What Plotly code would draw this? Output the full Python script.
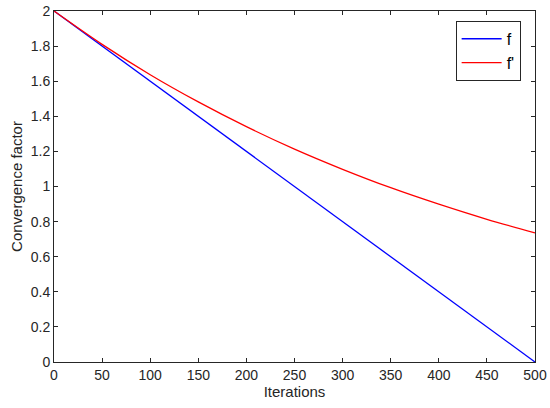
import plotly.graph_objects as go

# data
iterations = [0, 50, 100, 150, 200, 250, 300, 350, 400, 450, 500]
f_vals = [2.0, 1.8, 1.6, 1.4, 1.2, 1.0, 0.8, 0.6, 0.4, 0.2, 0.0]
f_prime_vals = [2.0, 1.810, 1.637, 1.482, 1.341, 1.213, 1.098, 0.993, 0.899, 0.813, 0.736]

fig = go.Figure()
fig.add_trace(go.Scatter(x=iterations, y=f_vals, mode="lines", name="f",
                         line=dict(color="#0000ff", width=1.3)))
fig.add_trace(go.Scatter(x=iterations, y=f_prime_vals, mode="lines", name="f'",
                         line=dict(color="#ff0000", width=1.3, shape="spline")))

axis_style = dict(showgrid=False, zeroline=False, showline=True, linecolor="#262626",
                  linewidth=1, mirror="ticks", ticks="inside", ticklen=4, automargin=False,
                  tickcolor="#262626", tickfont=dict(size=14, color="#262626"))

fig.update_layout(
    width=550, height=408,
    margin=dict(l=54, r=15, t=11, b=46),
    plot_bgcolor="white", paper_bgcolor="white",
    font=dict(family="Liberation Sans, Arial, sans-serif", color="#262626"),
    xaxis=dict(range=[0, 500], dtick=50, title=dict(text="Iterations", font=dict(size=15), standoff=2),
               **axis_style),
    yaxis=dict(range=[0, 2], dtick=0.2, title=dict(text="Convergence factor", font=dict(size=15), standoff=4),
               **axis_style),
    legend=dict(x=0.835, y=0.972, xanchor="left", yanchor="top",
                bordercolor="#262626", borderwidth=1, bgcolor="white",
                font=dict(size=16, family="Liberation Sans, Arial, sans-serif", color="black"),
                itemwidth=40, tracegroupgap=0),
    showlegend=True,
)

# drop the default page margin so the figure sits at the window corner
fig.write_html("out.html", config={"displayModeBar": False},
               post_script="document.body.style.margin='0';")
